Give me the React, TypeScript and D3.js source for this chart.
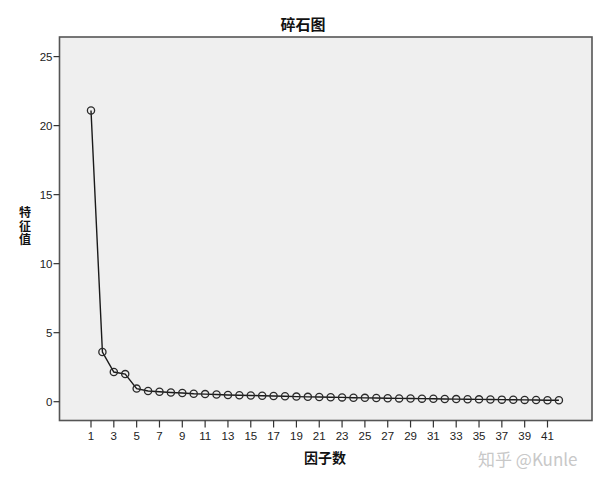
import React from 'react';
import * as d3 from 'd3';

// eigenvalues
const factorNumbers: number[] = d3.range(1, 43);
const eigenvalues: number[] = [
  21.1, 3.6, 2.15, 2.0, 0.95, 0.78, 0.72, 0.67, 0.63, 0.58, 0.55, 0.52, 0.49, 0.47,
  0.45, 0.43, 0.41, 0.39, 0.37, 0.35, 0.34, 0.32, 0.31, 0.29, 0.28, 0.27, 0.25,
  0.24, 0.23, 0.22, 0.21, 0.2, 0.19, 0.18, 0.17, 0.16, 0.15, 0.14, 0.13, 0.12,
  0.11, 0.1,
];
const xTicks: number[] = d3.range(1, 42, 2);
const yTicks: number[] = [0, 5, 10, 15, 20, 25];
const title = '碎石图';
const xLabel = '因子数';
const yLabel = '特征值';
const watermark = '知乎 @Kunle';

const W = 600;
const H = 481;
const frame = { left: 59.5, top: 37, right: 592, bottom: 420.5 };

const App: React.FC = () => {
  const x = d3.scaleLinear().domain([1, 41]).range([91, 547.5]);
  const y = d3.scaleLinear().domain([0, 25]).range([401.7, 56.6]);

  const points = factorNumbers.map((n, i) => ({ n, v: eigenvalues[i] }));
  const line = d3
    .line<{ n: number; v: number }>()
    .x((d) => x(d.n))
    .y((d) => y(d.v));

  const tickFont = '"Liberation Sans", Arial, sans-serif';
  const cjkFont = '"Noto Sans CJK SC", sans-serif';

  return (
    <svg
      width={W}
      height={H}
      style={{ position: 'absolute', left: 0, top: 0, background: '#fff' }}>
      {/* title */}
      <text
        x={303}
        y={30}
        textAnchor="middle"
        fontFamily={cjkFont}
        fontWeight={700}
        fontSize={15}
        fill="#111">
        {title}
      </text>

      {/* plot frame */}
      <rect
        x={frame.left}
        y={frame.top}
        width={frame.right - frame.left}
        height={frame.bottom - frame.top}
        fill="#efefef"
        stroke="#555"
        strokeWidth={1.6}
      />

      {/* y axis */}
      {yTicks.map((t) => (
        <g key={`y${t}`}>
          <line x1={frame.left - 6} x2={frame.left} y1={y(t)} y2={y(t)} stroke="#333" strokeWidth={1.2} />
          <text
            x={frame.left - 7}
            y={y(t)}
            dy="0.35em"
            textAnchor="end"
            fontFamily={tickFont}
            fontSize={11.5}
            fill="#222">
            {t}
          </text>
        </g>
      ))}

      {/* x axis */}
      {xTicks.map((t) => (
        <g key={`x${t}`}>
          <line x1={x(t)} x2={x(t)} y1={frame.bottom} y2={frame.bottom + 7} stroke="#333" strokeWidth={1.2} />
          <text
            x={x(t)}
            y={439.5}
            textAnchor="middle"
            fontFamily={tickFont}
            fontSize={11.5}
            fill="#222">
            {t}
          </text>
        </g>
      ))}

      {/* axis labels */}
      <text
        x={325}
        y={463}
        textAnchor="middle"
        fontFamily={cjkFont}
        fontWeight={700}
        fontSize={14}
        fill="#111">
        {xLabel}
      </text>
      {/* vertical y label, characters stacked upright */}
      <text
        x={25}
        y={227}
        textAnchor="middle"
        fontFamily={cjkFont}
        fontWeight={700}
        fontSize={12}
        letterSpacing={1.5}
        fill="#111"
        style={{ writingMode: 'vertical-rl', textOrientation: 'upright' }}>
        {yLabel}
      </text>

      {/* scree line */}
      <path d={line(points) ?? ''} fill="none" stroke="#1a1a1a" strokeWidth={1.4} />
      {points.map((p) => (
        <circle
          key={p.n}
          cx={x(p.n)}
          cy={y(p.v)}
          r={3.6}
          fill="none"
          stroke="#2a2a2a"
          strokeWidth={1.3}
        />
      ))}

      {/* watermark */}
      <text
        x={478}
        y={466}
        fontFamily={cjkFont}
        fontSize={17}
        fill="#c8c8c8">
        {watermark}
      </text>
    </svg>
  );
};

export default App;
